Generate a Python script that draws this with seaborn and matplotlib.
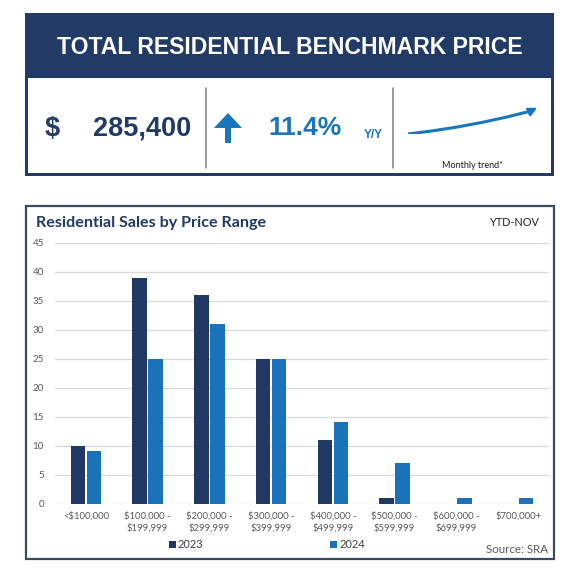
import numpy as np
import pandas as pd
import matplotlib
matplotlib.use("Agg")
import matplotlib.pyplot as plt
from matplotlib.patches import Rectangle, FancyArrow
import seaborn as sns

# ---------------- data ----------------
price_ranges = ["<$100,000", "$100,000 -\n$199,999", "$200,000 -\n$299,999",
                "$300,000 -\n$399,999", "$400,000 -\n$499,999", "$500,000 -\n$599,999",
                "$600,000 -\n$699,999", "$700,000+"]
sales_2023 = [10, 39, 36, 25, 11, 1, 0, 0]
sales_2024 = [9, 25, 31, 25, 14, 7, 1, 1]
years = ["2023", "2024"]
y_ticks = [0, 5, 10, 15, 20, 25, 30, 35, 40, 45]

benchmark_price = "285,400"
yoy_change = "11.4%"
trend_values = [0.0, 2.9, 6.4, 10.6, 15.5, 21.1]   # monthly trend sketch (relative)

# ---------------- style ----------------
NAVY = "#213a66"
BAR23 = "#1f3864"
BAR24 = "#1a72bb"
BLUE = "#1a75bb"
GRAY = "#595959"

sns.set_theme(style="white")
plt.rcParams["font.family"] = ["Lato", "DejaVu Sans"]

W, H = 563, 573
fig = plt.figure(figsize=(W / 100, H / 100), dpi=100)
fig.patch.set_facecolor("white")

# overlay axes in pixel coordinates for panel decorations
ov = fig.add_axes([0, 0, 1, 1], zorder=0)
ov.set_xlim(0, W)
ov.set_ylim(H, 0)
ov.axis("off")

# ---- top panel ----
ov.add_patch(Rectangle((25, 13), 529, 163, facecolor=NAVY, edgecolor="none"))
ov.add_patch(Rectangle((28, 78), 523, 95, facecolor="white", edgecolor="none"))
ov.text(290, 54, "TOTAL RESIDENTIAL BENCHMARK PRICE", color="white",
        fontsize=16.6, fontweight="bold", family="Liberation Sans",
        ha="center", va="baseline")
ov.text(45, 136, "$", color=NAVY, fontsize=19.5, fontweight="bold",
        family="Liberation Sans", ha="left", va="baseline")
ov.text(93, 136, benchmark_price, color=NAVY, fontsize=19.5, fontweight="bold",
        family="Liberation Sans", ha="left", va="baseline")
for xd in (206, 393):
    ov.plot([xd, xd], [88, 168], color="#7f7f7f", lw=1.1)
ov.add_patch(FancyArrow(228, 143, 0, -15, width=6, head_width=28,
                        head_length=15, length_includes_head=False,
                        color=BLUE, lw=0))
ov.text(268, 135, yoy_change, color=BLUE, fontsize=19, fontweight="bold",
        family="Liberation Sans", ha="left", va="baseline")
ov.text(364, 138, "Y/Y", color=BLUE, fontsize=8.5, fontweight="bold",
        family="Liberation Sans", ha="left", va="baseline")
ov.text(472, 165, "Monthly trend*", color="#1a1a1a", fontsize=6.5,
        ha="center", va="center")

# trend inset
tx0, tx1, ty0, ty1 = 408, 531, 111, 134
tax = fig.add_axes([tx0 / W, 1 - ty1 / H, (tx1 - tx0) / W, (ty1 - ty0) / H], zorder=2)
tdf = pd.DataFrame({"month": np.arange(len(trend_values)), "value": trend_values})
sns.lineplot(data=tdf, x="month", y="value", ax=tax, color=BLUE, lw=2.2)
tax.set_xlim(0, len(trend_values) - 1)
tax.set_ylim(0, trend_values[-1])
tax.annotate("", xy=(tdf["month"].iloc[-1] + 0.25, trend_values[-1] + 3.0),
             xytext=(tdf["month"].iloc[-1] - 0.1, trend_values[-1] - 1.0),
             arrowprops=dict(arrowstyle="-|>", color=BLUE, lw=1.8,
                             mutation_scale=12, shrinkA=0, shrinkB=0),
             annotation_clip=False)
tax.axis("off")
tax.patch.set_alpha(0)

# ---- bottom panel ----
ov.add_patch(Rectangle((25.5, 205.5), 528, 353, facecolor="white",
                       edgecolor="#3d4a5e", lw=1.6))
ov.text(35.5, 226.7, "Residential Sales by Price Range", color=NAVY,
        fontsize=11.6, fontweight="bold", ha="left", va="baseline")
ov.text(540, 222, "YTD-NOV", color="#262626", fontsize=7.8,
        ha="right", va="center")
ov.text(548, 549.5, "Source: SRA", color=GRAY, fontsize=8.3,
        ha="right", va="center")

# ---- bar chart ----
ax_l, ax_r, ax_t, ax_b = 55, 549, 243, 503.5
ax = fig.add_axes([ax_l / W, 1 - ax_b / H, (ax_r - ax_l) / W, (ax_b - ax_t) / H], zorder=3)
ax.patch.set_alpha(0)

df = pd.DataFrame({
    "range": price_ranges * 2,
    "year": [years[0]] * len(price_ranges) + [years[1]] * len(price_ranges),
    "sales": sales_2023 + sales_2024,
})
sns.barplot(data=df, x="range", y="sales", hue="year", order=price_ranges,
            hue_order=years, palette={years[0]: BAR23, years[1]: BAR24},
            width=0.52, gap=0.1, saturation=1, ax=ax, errorbar=None,
            linewidth=0)

ax.set_ylim(0, 45)
ax.set_xlim(-0.5, len(price_ranges) - 0.5)
ax.set_yticks(y_ticks)
ax.set_xlabel("")
ax.set_ylabel("")
for s in ax.spines.values():
    s.set_visible(False)
ax.grid(axis="y", color="#d9d9d9", lw=0.9)
ax.set_axisbelow(True)
ax.tick_params(axis="y", length=0, pad=8, labelsize=7, labelcolor=GRAY)
ax.tick_params(axis="x", length=0, pad=5.5, labelsize=6.8, labelcolor=GRAY)
for lbl in ax.get_xticklabels():
    lbl.set_linespacing(1.35)
    lbl.set_va("top")

handles, labels = ax.get_legend_handles_labels()
ax.legend(handles, labels, loc="center left", bbox_to_anchor=(169, 545),
          bbox_transform=ov.transData, ncol=2, frameon=False, fontsize=8,
          handlelength=0.6, handleheight=0.6, handletextpad=0.2,
          columnspacing=11.4, borderpad=0, borderaxespad=0, labelcolor="#404040")

fig.savefig("out.png", dpi=100, facecolor="white")
